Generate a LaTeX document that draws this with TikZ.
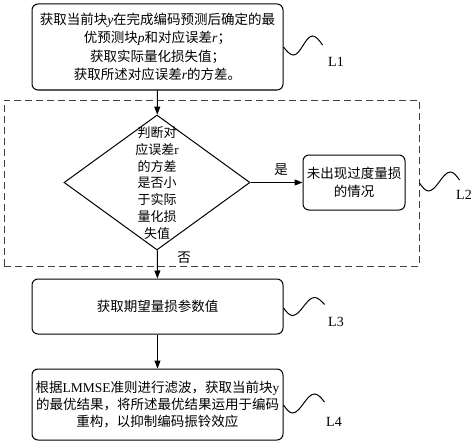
\documentclass[tikz,border=0pt]{standalone}
\usepackage{fontspec}
\setmainfont{Noto Sans CJK SC}
\newfontfamily\lat{Liberation Serif}
\usepackage{tikz}
\usetikzlibrary{arrows.meta,shapes.geometric}
\tikzstyle{stepbox}=[draw,rounded corners=6pt,line width=1pt,inner sep=0pt,align=center,minimum width=251pt]
\tikzstyle{tag}=[font=\lat\fontsize{14}{14}\selectfont,inner sep=0pt]
\tikzstyle{wave}=[line width=1pt]

\begin{document}
\begin{tikzpicture}[x=1pt,y=-1pt,>={Triangle[length=8pt,width=6pt]},line width=1pt,
    font=\fontsize{13.5}{18.3}\selectfont]
      \useasboundingbox (0,0) rectangle (474,444);
      \node[stepbox,minimum height=86pt] (s1) at (157.5,47)
        {获取当前块{\lat\itshape y}在完成编码预测后确定的最\\
         优预测块{\lat\itshape p}和对应误差{\lat\itshape r}；\\
         获取实际量化损失值；\\
         获取所述对应误差{\lat\itshape r}的方差。};
      \node[draw=black!75,dash pattern=on 7pt off 4pt,line width=1pt,minimum width=415pt,
        minimum height=166pt,inner sep=0pt] (frame) at (211.5,183) {};
      \node[diamond,draw,minimum width=186pt,minimum height=135pt,inner sep=0pt] (dia) at (157,182.5) {};
      \node[align=center,font=\fontsize{13}{16.8}\selectfont] (diatext) at (157,183)
        {判断对\\应误差{\lat r}\\的方差\\是否小\\于实际\\量化损\\失值};
      \node[stepbox,minimum width=102pt,minimum height=55pt] (s2) at (354,182.5)
        {未出现过度量损\\的情况};
      \node[stepbox,minimum height=55pt] (s3) at (157.5,306.5) {获取期望量损参数值};
      \node[stepbox,minimum height=71pt,font=\fontsize{13.5}{17}\selectfont] (s4) at (157.5,404.5)
        {根据{\lat LMMSE}准则进行滤波，获取当前块{\lat y}\\
         的最优结果，将所述最优结果运用于编码\\
         重构，以抑制编码振铃效应};
      \node[inner sep=0pt] (yes) at (281,170) {是};
      \node[inner sep=0pt] (no) at (184,258) {否};
      \draw[->] (s1) -- (dia);
      \draw[->] (dia) -- (s2);
      \draw[->] (dia) -- (s3);
      \draw[->] (s3) -- (s4);
      \draw[wave] (s1.east) sin ++(10,8) cos ++(9.5,-9.5) sin ++(9.5,-9.5) cos ++(10,9);
      \draw[wave] (frame.east) sin ++(9,8) cos ++(11,-9.5) sin ++(11,-9.5) cos ++(9,8);
      \draw[wave] (s3.east) ++(0,1.5) sin ++(9,7.5) cos ++(11,-9) sin ++(11,-9) cos ++(10,7);
      \draw[wave] (s4.east) ++(0,0.5) sin ++(9,8) cos ++(11,-9.5) sin ++(11,-9.5) cos ++(10,8);
      \node[tag] (t1) at (336,62) {L1};
      \node[tag] (t2) at (464,195) {L2};
      \node[tag] (t3) at (336,322) {L3};
      \node[tag] (t4) at (334,422) {L4};
    \end{tikzpicture}
\end{document}
